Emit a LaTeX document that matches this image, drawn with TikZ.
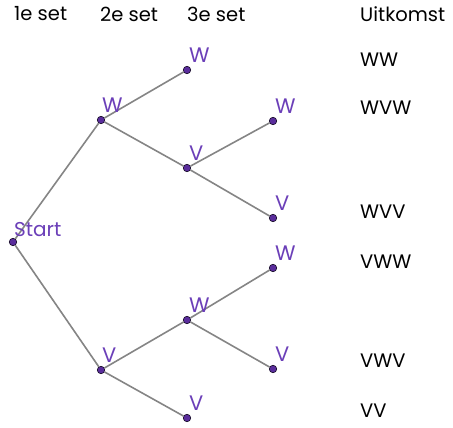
\documentclass[tikz,border=0pt]{standalone}
\usepackage{fontspec}
\setmainfont{Poppins}
\definecolor{lab}{HTML}{6B3FB8}
\definecolor{dotf}{HTML}{5A2D9C}
\begin{document}
\begin{tikzpicture}[x=1pt,y=-1pt,
  pt/.style={circle,fill=dotf,draw=black!75!dotf,line width=0.6pt,inner sep=0pt,minimum size=7.5pt},
  lbl/.style={text=lab,font=\fontsize{21}{21}\selectfont,anchor=south west,inner sep=0pt},
  edgeln/.style={draw=black!48,line width=1.6pt},
  hdr/.style={font=\fontsize{19.5}{19.5}\selectfont,anchor=west,inner sep=0pt},
  outc/.style={font=\fontsize{19.5}{19.5}\selectfont,anchor=west,inner sep=0pt}]
\useasboundingbox (0,0) rectangle (453,428);
\node[pt] (s) at (13,242) {};
\node[pt] (w2) at (101,120) {};
\node[pt] (v2) at (101,370) {};
\node[pt] (w3a) at (187,70) {};
\node[pt] (v3a) at (187,168) {};
\node[pt] (w4a) at (273,121) {};
\node[pt] (v4a) at (273,218) {};
\node[pt] (w3b) at (187,320) {};
\node[pt] (v3b) at (187,418) {};
\node[pt] (w4b) at (273,268) {};
\node[pt] (v4b) at (273,369) {};
\draw[edgeln] (s) -- (w2); \draw[edgeln] (s) -- (v2);
\draw[edgeln] (w2) -- (w3a); \draw[edgeln] (w2) -- (v3a);
\draw[edgeln] (v3a) -- (w4a); \draw[edgeln] (v3a) -- (v4a);
\draw[edgeln] (v2) -- (w3b); \draw[edgeln] (v2) -- (v3b);
\draw[edgeln] (w3b) -- (w4b); \draw[edgeln] (w3b) -- (v4b);
\node[lbl,font=\fontsize{20}{20}\selectfont] (ls) at (14,237) {Start};
\node[lbl] (lw2) at (102,113) {W};
\node[lbl] (lv2) at (102,363) {V};
\node[lbl] (lw3a) at (189,63) {W};
\node[lbl] (lv3a) at (189,161) {V};
\node[lbl] (lw4a) at (275,114) {W};
\node[lbl] (lv4a) at (275,211) {V};
\node[lbl] (lw3b) at (189,313) {W};
\node[lbl] (lv3b) at (189,411) {V};
\node[lbl] (lw4b) at (275,261) {W};
\node[lbl] (lv4b) at (275,362) {V};
\node[hdr] (h1) at (14,14) {1e set};
\node[hdr] (h2) at (100,14) {2e set};
\node[hdr] (h3) at (187,14) {3e set};
\node[hdr] (h4) at (360,14) {Uitkomst};
\node[outc] (o1) at (360,60) {WW};
\node[outc] (o2) at (360,108) {WVW};
\node[outc] (o3) at (360,212) {WVV};
\node[outc] (o4) at (360,262) {VWW};
\node[outc] (o5) at (360,361) {VWV};
\node[outc] (o6) at (360,411) {VV};
\end{tikzpicture}
\end{document}
